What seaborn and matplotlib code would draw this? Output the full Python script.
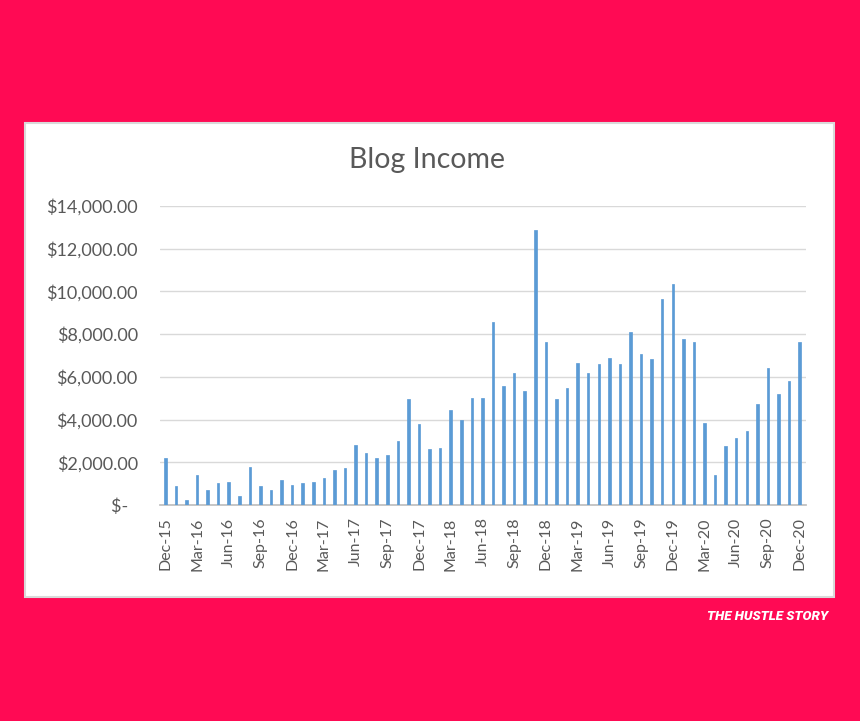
import numpy as np
import pandas as pd
import matplotlib
matplotlib.use("Agg")
import matplotlib.pyplot as plt
import seaborn as sns
from matplotlib.patches import Rectangle

# monthly blog income, Dec-15 .. Dec-20
months = pd.date_range("2015-12-01", periods=61, freq="MS").strftime("%b-%y").tolist()
income = [
    2190, 870, 250, 1410, 715, 1030, 1100, 400, 1800, 870, 715, 1180,
    950, 1030, 1100, 1260, 1650, 1720, 2830, 2440, 2210, 2360, 2980, 4940,
    3780, 2600, 2670, 4460, 3990, 5030, 5030, 8560, 5580, 6200, 5340, 12870,
    7620, 4960, 5500, 6670, 6200, 6590, 6900, 6590, 8080, 7070, 6840, 9650,
    10350, 7770, 7620, 3850, 1410, 2750, 3140, 3450, 4720, 6430, 5190, 5810,
    7620,
]
yticks = [0, 2000, 4000, 6000, 8000, 10000, 12000, 14000]

df = pd.DataFrame({"month": months, "income": income})

sns.set_theme(style="white")
plt.rcParams["font.family"] = ["Lato", "DejaVu Sans"]

pink = "#FF0A54"
grey_txt = "#595959"

fig = plt.figure(figsize=(8.6, 7.21), dpi=100)
fig.patch.set_facecolor(pink)

# white chart panel
fig.patches.append(Rectangle((25 / 860, 1 - 597 / 721), 809 / 860, 474 / 721,
                             transform=fig.transFigure, facecolor="white",
                             edgecolor="#D9D9D9", linewidth=1.5, zorder=-5))

ax = fig.add_axes([160 / 860, 1 - 505 / 721, 646 / 860, 299 / 721])
ax.set_facecolor("none")

sns.barplot(data=df, x="month", y="income", color="#5B9BD5", width=0.24,
            saturation=1, edgecolor="#5B9BD5", linewidth=0.5, ax=ax, zorder=3)

ax.set_ylim(0, 14000)
ax.set_xlim(-0.5, 60.6)
ax.set_yticks(yticks)
ax.set_yticklabels(["$-  "] + [f"${v:,.2f}" for v in yticks[1:]])
ax.yaxis.grid(True, color="#D9D9D9", linewidth=1)
ax.set_axisbelow(True)

pos = list(range(0, 61, 3))
ax.set_xticks(pos)
ax.set_xticklabels([months[i] for i in pos], rotation=90)
ax.set_xticks([p - 0.5 for p in pos] + [60.6], minor=True)
ax.tick_params(axis="x", which="major", length=0, pad=9, labelsize=11.5, colors=grey_txt)
ax.tick_params(axis="x", which="minor", length=5, color="#BFBFBF", width=1)
ax.tick_params(axis="y", length=0, pad=16, labelsize=13, colors=grey_txt)

for side in ["top", "right", "left"]:
    ax.spines[side].set_visible(False)
ax.spines["bottom"].set_color("#BFBFBF")
ax.set_xlabel("")
ax.set_ylabel("")

fig.text(427 / 860, 1 - 160 / 721, "Blog Income", ha="center", va="center",
         fontsize=20.5, color=grey_txt)

fig.text(768 / 860, 1 - 617 / 721, "THE HUSTLE STORY", ha="center", va="center",
         fontsize=9.6, color="white", fontweight="black", style="italic",
         family=["Roboto", "DejaVu Sans"])

fig.savefig("out.png", dpi=100, facecolor=fig.get_facecolor())
